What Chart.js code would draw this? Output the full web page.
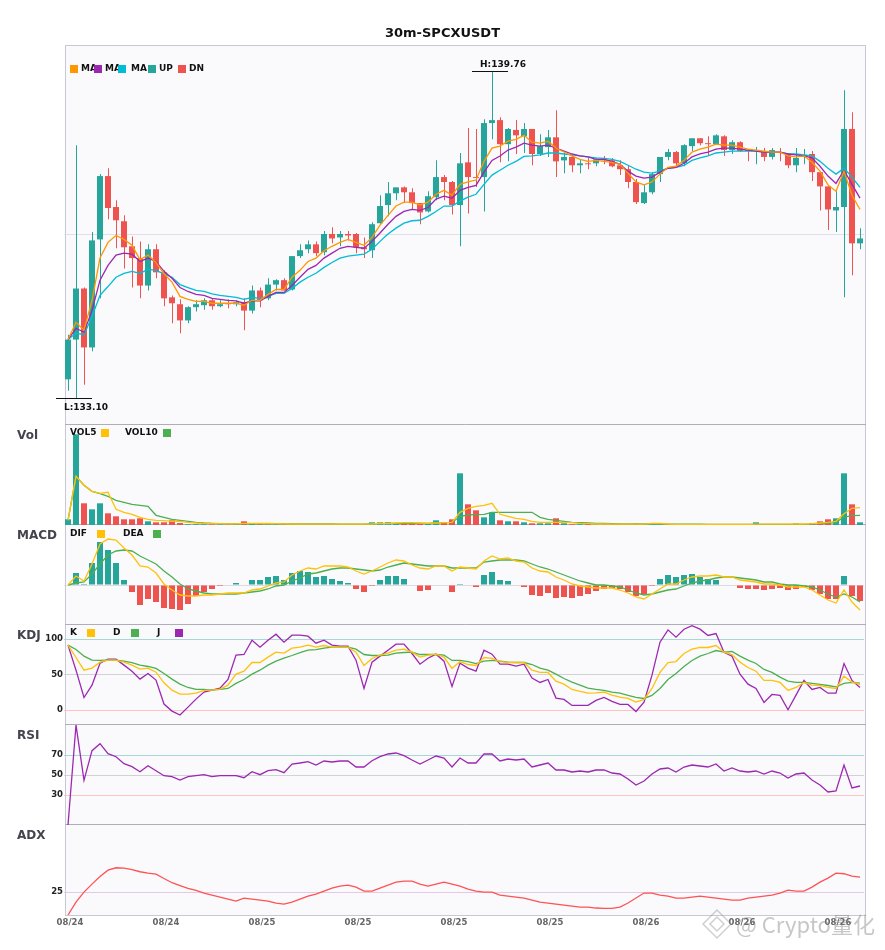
<!DOCTYPE html>
<html>
<head>
<meta charset="utf-8">
<title>30m-SPCXUSDT</title>
<script src="https://cdn.jsdelivr.net/npm/chart.js@4/dist/chart.umd.js"></script>
<style>
  html, body { margin: 0; padding: 0; background: #fff; }
  canvas { display: block; }
</style>
</head>
<body>
<canvas id="kline" width="885" height="950"></canvas>
<script>
var tickLabels = ['08/24','08/24','08/25','08/25','08/25','08/25','08/26','08/26','08/26'];

var open = [133.49,134.30,135.34,134.14,136.34,137.63,137.00,136.71,136.20,135.96,
  135.40,136.14,135.67,135.16,135.02,134.69,134.96,135.00,135.10,134.98,
  135.04,135.02,135.06,134.89,135.30,135.14,135.42,135.51,135.32,136.00,
  136.14,136.24,136.08,136.45,136.38,136.45,136.45,136.18,136.12,136.67,
  137.04,137.28,137.40,137.30,137.08,136.91,137.20,137.61,137.51,137.04,
  137.91,137.61,137.61,138.71,138.77,138.28,138.57,138.44,138.59,138.08,
  138.22,138.42,137.95,138.02,137.85,137.89,137.89,137.97,137.95,137.85,
  137.77,137.51,137.08,137.30,137.67,138.02,138.12,137.89,138.24,138.40,
  138.30,138.28,138.44,138.16,138.32,138.16,138.14,138.12,138.02,138.12,
  138.08,137.85,138.02,138.08,137.71,137.42,136.93,137.00,138.59,136.26];
var close = [134.30,135.34,134.14,136.32,137.63,136.98,136.73,136.18,135.96,135.40,
  136.14,135.67,135.14,135.04,134.69,134.96,135.02,135.10,134.98,135.02,
  135.02,135.06,134.89,135.30,135.10,135.42,135.51,135.30,136.00,136.12,
  136.24,136.06,136.45,136.36,136.45,136.42,136.18,136.14,136.65,137.02,
  137.28,137.40,137.30,137.08,136.89,137.22,137.61,137.51,137.04,137.89,
  137.61,137.59,138.71,138.77,138.28,138.59,138.46,138.59,138.08,138.24,
  138.42,137.93,138.02,137.85,137.89,137.87,137.97,137.95,137.83,137.77,
  137.51,137.10,137.30,137.67,138.02,138.12,137.89,138.26,138.40,138.30,
  138.28,138.46,138.16,138.32,138.14,138.14,138.16,138.02,138.16,138.10,
  137.85,138.00,138.06,137.71,137.42,136.95,137.00,138.59,136.26,136.36];
var high = [134.40,138.26,135.36,136.49,137.67,137.79,137.14,136.83,136.40,136.30,
  136.24,136.24,135.71,135.20,135.12,134.98,135.10,135.14,135.14,135.10,
  135.12,135.10,135.14,135.40,135.36,135.55,135.53,135.55,136.00,136.24,
  136.32,136.30,136.51,136.59,136.51,136.51,136.47,136.38,136.69,137.24,
  137.51,137.40,137.42,137.38,137.08,137.32,137.95,137.65,137.53,138.10,
  138.61,138.59,138.79,139.76,138.83,138.61,138.77,138.71,138.59,138.48,
  138.57,138.97,138.10,138.08,137.97,138.00,138.00,138.04,138.00,137.95,
  137.85,137.57,137.46,137.71,138.02,138.18,138.14,138.28,138.40,138.40,
  138.44,138.48,138.46,138.36,138.34,138.18,138.22,138.20,138.20,138.20,
  138.10,138.20,138.18,138.14,137.71,137.42,137.34,139.38,138.93,136.57];
var low = [133.26,133.10,133.38,134.06,135.14,136.75,136.16,135.75,135.36,135.14,
  135.30,135.55,134.98,134.63,134.43,134.63,134.87,134.91,134.91,134.96,
  134.94,134.98,134.49,134.83,134.96,135.10,135.30,135.30,135.30,135.96,
  136.06,136.00,136.02,136.26,136.20,136.32,136.06,135.96,135.96,136.66,
  136.81,137.14,137.08,136.95,136.65,136.89,137.14,137.14,136.85,136.20,
  136.87,137.41,136.91,138.38,137.91,137.93,138.08,138.10,137.85,138.04,
  138.02,137.61,137.69,137.71,137.69,137.77,137.83,137.87,137.81,137.65,
  137.38,137.06,137.06,137.26,137.51,137.95,137.83,137.83,138.14,138.26,
  138.04,138.28,138.04,138.08,138.12,137.93,137.87,137.93,137.97,137.93,
  137.79,137.71,137.87,137.53,136.93,136.53,136.49,135.16,135.61,136.14];

var ma5 = [134.30,134.65,134.49,135.10,135.96,136.28,136.42,136.34,136.22,135.93,
  136.02,135.87,135.64,135.47,135.18,135.12,135.08,135.08,135.04,135.04,
  135.04,135.04,135.00,135.10,135.10,135.22,135.32,135.32,135.57,135.71,
  135.89,135.96,136.11,136.20,136.28,136.34,136.28,136.22,136.38,136.63,
  136.83,137.02,137.10,137.10,137.04,137.10,137.26,137.34,137.24,137.46,
  137.51,137.55,137.93,138.20,138.24,138.34,138.38,138.46,138.32,138.30,
  138.34,138.20,138.12,138.04,137.97,137.93,137.95,137.93,137.91,137.87,
  137.69,137.51,137.45,137.51,137.67,137.81,137.83,137.95,138.12,138.18,
  138.22,138.28,138.26,138.26,138.22,138.18,138.16,138.14,138.12,138.12,
  138.04,138.02,138.04,137.91,137.73,137.45,137.32,137.73,137.24,136.95];
var ma10 = [134.30,134.53,134.45,134.89,135.51,135.81,136.02,136.06,136.04,135.89,
  135.96,135.89,135.69,135.55,135.36,135.28,135.22,135.20,135.14,135.12,
  135.10,135.09,135.04,135.09,135.09,135.18,135.26,135.26,135.40,135.57,
  135.73,135.81,135.96,136.06,136.16,136.20,136.18,136.16,136.30,136.47,
  136.65,136.81,136.91,136.95,136.93,136.99,137.16,137.22,137.18,137.34,
  137.40,137.44,137.71,137.95,138.04,138.16,138.22,138.30,138.26,138.24,
  138.26,138.20,138.14,138.08,138.04,138.02,137.97,137.97,137.93,137.87,
  137.73,137.63,137.59,137.61,137.71,137.79,137.81,137.89,138.02,138.08,
  138.12,138.18,138.20,138.20,138.18,138.16,138.14,138.12,138.12,138.12,
  138.08,138.06,138.04,138.00,137.83,137.63,137.48,137.75,137.46,137.18];
var ma20 = [134.30,134.43,134.40,134.77,135.20,135.38,135.57,135.65,135.69,135.65,
  135.73,135.71,135.64,135.57,135.42,135.36,135.30,135.28,135.23,135.20,
  135.18,135.16,135.12,135.16,135.14,135.18,135.24,135.24,135.34,135.47,
  135.57,135.65,135.77,135.87,135.96,136.00,136.02,136.04,136.14,136.30,
  136.45,136.57,136.67,136.72,136.73,136.81,136.91,137.02,137.02,137.12,
  137.20,137.26,137.46,137.65,137.75,137.85,137.93,138.03,138.04,138.06,
  138.10,138.10,138.08,138.06,138.04,138.02,138.00,137.99,137.97,137.93,
  137.85,137.77,137.71,137.69,137.73,137.79,137.81,137.85,137.95,138.00,
  138.04,138.10,138.12,138.14,138.14,138.14,138.14,138.12,138.12,138.12,
  138.08,138.08,138.06,138.04,137.93,137.79,137.67,137.79,137.61,137.40];

var volume = [5.7,90.7,21.7,15.7,21.7,11.7,8.7,5.7,5.7,6.7,
  3.7,2.7,2.7,4.7,2,.7,.7,.7,.7,.7,
  .7,1,3.7,1,.7,.7,.7,.7,1.7,.7,
  .7,.7,1,.7,.7,.7,.7,.7,2.7,2.7,
  2.7,1.3,1,1,1.3,1.3,4.7,2.7,5.7,51.7,
  20.7,14.7,7.7,12.7,4.7,3.7,3.7,2.7,1.7,1.7,
  1.7,6.7,1.7,.7,.7,1.7,.7,.7,.7,.7,
  .7,1.3,.5,.5,.5,.5,.5,.5,.5,.5,
  .5,.5,.5,.5,.5,.5,2.7,.5,.5,.5,
  .5,1.7,.5,1.7,3.7,5.7,6.7,51.7,20.7,2.7];
var vol5 = [4.7,48.7,39.7,33.7,31.7,32.7,15.7,12.7,10.7,7.7,
  5.7,4.7,4.3,3.7,3.7,2.7,2,1.7,1.3,1.3,
  1.2,1.2,1.6,1.6,1.6,1.5,1.4,1.2,1,.9,
  .9,.9,.9,.9,.8,.8,.8,.8,1,1.7,
  1.3,2,2.3,2.3,2,1.7,2,2.3,2.7,12.7,
  16.7,18.7,19.7,21.7,10.7,8.7,6.7,5.7,3.7,2.7,
  2.7,2.7,2.7,2.3,1.7,1.3,1,1,.8,.8,
  .8,.8,.8,1.7,1.7,1,.7,.6,.6,.6,
  .5,.5,.5,.5,.5,.5,.9,.9,.9,.9,
  .9,1,1,1.3,2,2.7,3.7,11.3,16.7,17.3];
var vol10 = [4.7,48.7,39.7,33.7,31.3,28.7,24.7,22.7,20.7,19.7,
  18.7,9.7,7.7,5.7,4.7,3.7,2.7,2,1.7,1.3,
  1.2,1.2,1.2,1.2,1.2,1.2,1.1,1.1,1,1,
  1,1,1,1,.9,.9,.9,.9,1.3,1.3,
  1.7,1.7,1.7,1.7,1.7,1.7,2,2.3,2.3,8.7,
  10,10.3,10.7,12.7,12.7,12.7,12.7,12.7,12.7,7.7,
  5.7,4.7,3.7,2.7,2.3,2,1.7,1.5,1.3,1.2,
  1,1,1,1,1,.9,.9,.8,.8,.8,
  .7,.7,.7,.6,.6,.6,.7,.7,.7,.7,
  .7,.7,.7,.8,1.3,1.7,2.7,8,9.3,9.7];

var hist = [0,.12,.01,.22,.43,.35,.22,.05,-.07,-.20,
  -.14,-.17,-.23,-.24,-.25,-.19,-.11,-.07,-.04,-.01,
  0,.02,0,.05,.05,.08,.09,.05,.12,.14,
  .13,.08,.09,.06,.04,.02,-.04,-.07,-.01,.05,
  .09,.09,.06,0,-.06,-.05,0,0,-.07,.01,
  0,-.02,.10,.13,.05,.04,0,-.02,-.10,-.11,
  -.08,-.13,-.12,-.13,-.11,-.09,-.06,-.04,-.03,-.04,
  -.07,-.11,-.09,-.01,.06,.10,.08,.10,.11,.08,
  .06,.05,0,0,-.03,-.04,-.04,-.05,-.04,-.03,
  -.05,-.04,-.02,-.05,-.09,-.14,-.14,.09,-.11,-.16];
var dif = [0,.09,.04,.21,.41,.46,.45,.37,.30,.19,
  .18,.12,.01,-.05,-.10,-.11,-.11,-.10,-.10,-.09,
  -.08,-.08,-.08,-.05,-.04,-.01,.02,.03,.10,.14,
  .17,.16,.19,.19,.19,.18,.14,.11,.14,.18,
  .22,.25,.24,.20,.17,.16,.19,.19,.14,.18,
  .17,.16,.24,.29,.26,.27,.24,.23,.17,.14,
  .13,.08,.05,.01,-.01,-.02,-.03,-.03,-.03,-.05,
  -.08,-.12,-.14,-.09,-.04,.01,.01,.05,.08,.09,
  .09,.10,.08,.08,.05,.04,.03,.01,.01,0,
  -.02,-.02,-.02,-.05,-.10,-.15,-.18,-.05,-.17,-.25];
var dea = [0,.02,.03,.11,.21,.30,.34,.35,.34,.29,
  .25,.21,.14,.08,.01,-.04,-.06,-.08,-.09,-.09,
  -.09,-.09,-.08,-.07,-.06,-.04,-.01,0,.04,.07,
  .11,.12,.14,.16,.17,.17,.16,.15,.14,.15,
  .18,.20,.22,.21,.20,.19,.19,.19,.17,.17,
  .17,.17,.23,.24,.25,.25,.25,.24,.21,.18,
  .16,.13,.10,.07,.04,.02,0,0,-.01,-.02,
  -.05,-.08,-.10,-.09,-.07,-.05,-.04,-.01,.02,.04,
  .05,.07,.08,.08,.07,.06,.05,.03,.03,.01,
  0,0,-.01,-.02,-.05,-.09,-.12,-.09,-.12,-.17];

var kLine = [91.6,74.2,56.3,59.2,67.6,70.4,70.4,67.6,63.4,57.7,
  59.2,53.5,38.5,28.2,22.5,22.5,23.9,27.7,28.2,29.6,
  35.2,50.7,54.9,67.1,67.1,74.7,81.7,80.3,87.3,88.7,
  91.6,88.7,91.1,88.7,88.7,88.7,81.7,62.9,72.8,77.5,
  80.3,84.5,85.9,81.7,74.7,77.5,78.9,74.7,58.7,68.5,
  64.3,62.9,74.2,72.8,68.5,67.1,67.1,67.1,56.3,53.1,
  53.1,40.8,36.6,29.1,26.3,23.9,24.4,25.4,21.1,18.3,
  16.4,11.3,15,30.5,53.1,67.1,68.5,79.8,85.9,88.3,
  88.3,91.1,81.7,78.4,67.6,60.1,54.9,41.8,41.8,39,
  27.7,31.9,39,35.2,34.7,31.9,30.5,47.9,39.4,36.2];
var dLine = [91.6,85.4,76.1,70.4,70,70.4,70.4,69,67.1,63.4,
  61.5,58.7,51.6,43.7,36.6,31.9,29.1,29.1,28.2,29.1,
  30.5,37.6,43.2,50.7,56.3,63.4,69,73.2,77,81.2,
  84.5,85.4,87.3,88.7,88.7,88.7,85.9,78.4,77,77,
  77.5,80.3,81.2,81.7,78.4,78.4,78.4,77.5,70,70,
  68.5,65.7,69,70,69,67.6,67.1,67.1,64.3,59.2,
  56.3,50.7,44.6,39.4,35.2,31,29.1,27.7,25.4,23.9,
  20.7,17.8,16.4,20.7,30.5,43.2,51.6,61.5,70,76.1,
  79.8,84,81.7,82.6,76.1,70.4,65.7,57.3,53.1,46.5,
  40.8,39,39,37.6,36.2,34.7,32.9,37.6,39,38];
var jLine = [91.6,56.3,17.8,35.2,66.2,71.8,71.8,63.4,54.9,43.7,
  51.6,42.3,8.5,-1.4,-7,4.2,15.5,25.4,28.2,31,
  43.2,77.5,78.4,98.6,88.7,98.6,107,95.8,105.6,105.6,
  104.2,94.4,98.6,91.6,90.1,90.1,70.4,30.5,67.6,76.1,
  84.5,93,93,79.8,64.8,73.2,78.9,69,33.3,66.2,
  59.2,54.9,84.5,78.9,64.8,64.8,62,64.8,45.1,39,
  43.2,16.9,15,6.6,6.6,6.6,13.6,17.8,12.2,8,
  8,-1.9,11.3,49.3,95.8,113.1,102.8,114.1,119,114.1,
  105.2,108,81.7,76.1,50.7,36.6,30.5,10.8,22.1,20.7,
  .5,21.1,41.8,29.1,31.9,23.9,23.9,65.7,41.8,31.9];

var rsi = [0,100,44.7,74.3,81.3,71.3,68.3,61.3,58.3,53.3,
  59.3,54.3,49.3,48.3,45,48.3,49.3,50.3,48.3,49.3,
  49.3,49.3,47.3,53.3,50.3,54.3,55.3,52.3,61,62,
  63.3,60,64,63,64,64,58,58,64.3,68.3,
  71,72,69.3,65,61,65,69,67,58,67,
  62,62,71,71,64,66,65,66,58,60,
  62,55,55,53,54,53,55,55,52,51,
  46,40,44,51,56,57,53,58,60,59,
  58,61,54,57,54,53,54,51,54,52,
  47,51,52,45,40,33,34,60,37,39];

var adx = [13.5,20,25,29,32.8,36,37.2,37,36.3,35.2,
  34.5,34,31.8,29.7,28.2,26.8,25.8,24.5,23.5,22.5,
  21.5,20.5,22,21.5,21,20.5,19.5,19,20,21.5,
  23,24,25.5,27,28,28.5,27.5,25.5,25.5,27,
  28.5,30,30.5,30.5,29,28,29,30,29,28,
  26.5,25.5,25,25,23.5,23,22.5,22,21,20,
  19.5,19,18.5,18,17.5,17.5,17,16.8,16.8,17.5,
  19.5,22,24.5,24.5,23.5,23,22,22,22.5,23,
  22.5,22,21.5,21,21,22,22.5,23,23.5,24.5,
  26,25.5,25.5,27.5,30,32,34.5,34.2,33,32.5];

var UP = '#26a69a', DN = '#ef5350';
var candleColors = close.map(function (c, i) { return c >= open[i] ? UP : DN; });
var histColors = hist.map(function (v) { return v >= 0 ? UP : DN; });
var xLabels = open.map(function (v, i) { return i; });

function lineSet(label, data, color, axis) {
  return { type: 'line', label: label, data: data, yAxisID: axis, borderColor: color,
    borderWidth: 1.3, pointRadius: 0, tension: 0, order: 0 };
}
function barSet(label, data, color, axis, width, order) {
  return { type: 'bar', label: label, data: data, yAxisID: axis, backgroundColor: color,
    barThickness: width, grouped: false, borderWidth: 0, inflateAmount: 0, order: order };
}

// y axis for one panel, ticks = the only levels that get a grid line
function panelAxis(weight, min, max, ticks, gridColors, showLabels) {
  return {
    position: 'left', stack: 'panels', stackWeight: weight, min: min, max: max,
    border: { display: false },
    afterFit: function (s) { s.width = 64; },
    afterBuildTicks: function (s) { s.ticks = ticks.map(function (v) { return { value: v }; }); },
    grid: {
      drawTicks: false, lineWidth: 1,
      color: function (c) { return gridColors[ticks.indexOf(c.tick.value)]; }
    },
    ticks: {
      display: showLabels, autoSkip: false, padding: 1, color: '#222',
      font: { family: 'DejaVu Sans', size: 8.5, weight: 'bold' },
      callback: function (v) { return v; }
    }
  };
}

function text(ctx, str, x, y, font, color, align) {
  ctx.font = font;
  ctx.fillStyle = color;
  ctx.textAlign = align || 'left';
  ctx.textBaseline = 'middle';
  ctx.fillText(str, x, y);
}

var panelBack = {
  id: 'panelBack',
  beforeDraw: function (chart) {
    var ctx = chart.ctx, a = chart.chartArea;
    ctx.save();
    ctx.fillStyle = '#fafafd';
    ctx.fillRect(a.left + 1, a.top, a.right - a.left + 1, a.bottom - a.top);
    ctx.strokeStyle = '#c8c8d4';
    ctx.lineWidth = 1;
    ctx.strokeRect(a.left + 1.5, a.top + .5, a.right - a.left, a.bottom - a.top);
    ctx.strokeStyle = '#aeaeb6';
    ['yVol', 'yMacd', 'yKdj', 'yRsi', 'yAdx'].forEach(function (id) {
      var t = Math.round(chart.scales[id].top) - .5;
      ctx.beginPath();
      ctx.moveTo(a.left + 1, t);
      ctx.lineTo(a.right + 2, t);
      ctx.stroke();
    });
    ctx.restore();
  }
};

var legends = {
  id: 'legends',
  afterDraw: function (chart) {
    var ctx = chart.ctx, leg = 'bold 9px "DejaVu Sans"';
    var head = 'bold 12px "DejaVu Sans"';
    ctx.save();

    text(ctx, '30m-SPCXUSDT', 442.5, 34, 'bold 13px "DejaVu Sans"', '#111', 'center');

    [['Vol', 'yVol'], ['MACD', 'yMacd'], ['KDJ', 'yKdj'], ['RSI', 'yRsi'], ['ADX', 'yAdx']].forEach(function (p) {
      text(ctx, p[0], 17, chart.scales[p[1]].top + 10.5, head, '#44444e');
    });

    // name, x of text, x of swatch, colour; swatch goes over the text like the original
    function row(y, items) {
      items.forEach(function (it) { text(ctx, it[0], it[1], y, leg, '#111'); });
      items.forEach(function (it) {
        ctx.fillStyle = it[3];
        ctx.fillRect(it[2], y - 4, 8, 8);
      });
    }
    row(69, [['MA', 81, 70, '#ff9800'], ['MA', 105, 94, '#9c27b0'], ['MA', 131, 118, '#00bcd4'],
      ['UP', 159, 148, UP], ['DN', 189, 178, DN]]);
    row(433, [['VOL5', 70, 101, '#ffc107'], ['VOL10', 125, 163, '#4caf50']]);
    row(534, [['DIF', 70, 97, '#ffc107'], ['DEA', 123, 153, '#4caf50']]);
    row(633, [['K', 70, 87, '#ffc107'], ['D', 113, 131, '#4caf50'], ['J', 157, 175, '#9c27b0']]);

    // high / low markers
    var x = chart.scales.x, y = chart.scales.y;
    var hi = Math.max.apply(null, high), lo = Math.min.apply(null, low);
    var hx = x.getPixelForValue(high.indexOf(hi)), hy = y.getPixelForValue(hi);
    var lx = x.getPixelForValue(low.indexOf(lo)), ly = y.getPixelForValue(lo);
    ctx.strokeStyle = '#111';
    ctx.lineWidth = 1.2;
    ctx.beginPath();
    ctx.moveTo(hx - 20, hy); ctx.lineTo(hx + 16, hy);
    ctx.moveTo(lx - 20, ly); ctx.lineTo(lx + 16, ly);
    ctx.stroke();
    text(ctx, 'H:' + hi.toFixed(2), hx + 11, hy - 7, leg, '#111', 'center');
    text(ctx, 'L:' + lo.toFixed(2), lx + 10, ly + 9, leg, '#111', 'center');

    // watermark
    ctx.strokeStyle = 'rgba(150,150,150,.45)';
    ctx.lineWidth = 1.5;
    ctx.beginPath();
    ctx.moveTo(717, 910); ctx.lineTo(731, 924); ctx.lineTo(717, 938); ctx.lineTo(703, 924); ctx.closePath();
    ctx.moveTo(717, 917); ctx.lineTo(724, 924); ctx.lineTo(717, 931); ctx.lineTo(710, 924); ctx.closePath();
    ctx.stroke();
    text(ctx, '@ Crypto量化', 736, 925, '22px "Noto Sans CJK SC"', 'rgba(130,130,130,.45)');
    ctx.restore();
  }
};

var ctx = document.getElementById('kline').getContext('2d');
var myChart = new Chart(ctx, {
  data: {
    labels: xLabels,
    datasets: [
      lineSet('MA5', ma5, '#ff9800', 'y'),
      lineSet('MA10', ma10, '#9c27b0', 'y'),
      lineSet('MA20', ma20, '#00bcd4', 'y'),
      barSet('body', open.map(function (o, i) { return [o, close[i]]; }), candleColors, 'y', 6, 1),
      Object.assign(barSet('wick', low.map(function (l, i) { return [l, high[i]]; }), candleColors, 'y', 1, 2), { xAxisID: 'xWick' }),

      lineSet('VOL5', vol5, '#ffc107', 'yVol'),
      lineSet('VOL10', vol10, '#4caf50', 'yVol'),
      barSet('Vol', volume, candleColors, 'yVol', 6, 1),

      lineSet('DIF', dif, '#ffc107', 'yMacd'),
      lineSet('DEA', dea, '#4caf50', 'yMacd'),
      barSet('MACD', hist, histColors, 'yMacd', 6, 1),

      lineSet('K', kLine, '#ffc107', 'yKdj'),
      lineSet('D', dLine, '#4caf50', 'yKdj'),
      lineSet('J', jLine, '#9c27b0', 'yKdj'),

      lineSet('RSI', rsi, '#9c27b0', 'yRsi'),
      lineSet('ADX', adx, '#ff5252', 'yAdx')
    ]
  },
  options: {
    responsive: false,
    animation: false,
    events: [],
    layout: { padding: { left: 0, right: 21, top: 45, bottom: 0 } },
    plugins: {
      legend: { display: false },
      tooltip: { enabled: false }
    },
    scales: {
      x: {
        type: 'category', offset: true,
        afterFit: function (s) { s.height = 35; },
        border: { display: false },
        grid: { display: false, drawTicks: false },
        ticks: {
          autoSkip: false, maxRotation: 0, padding: 3, labelOffset: 2, color: '#666',
          font: { family: 'DejaVu Sans', size: 8.5, weight: 'bold' },
          callback: function (v, i) { return i % 12 === 0 ? tickLabels[i / 12] : null; }
        }
      },
      // half a pixel to the right of x so the 1px wicks land on whole pixels
      xWick: { type: 'linear', display: false, offset: false, min: -0.5625, max: 99.4375 },
      yAdx: panelAxis(90, 13.5, 58.65, [25], ['#e4c8e8'], true),
      yRsi: panelAxis(100, 0, 100, [30, 50, 70], ['#ffc2c2', '#d2d2d6', '#a8d8d6'], true),
      yKdj: panelAxis(100, -21, 120, [0, 50, 100], ['#ffc2c2', '#d2d2d6', '#a8d8d6'], true),
      yMacd: panelAxis(100, -.4, .6, [0], ['#dcdce0'], false),
      yVol: panelAxis(100, 0, 100, [], [], false),
      y: panelAxis(380, 132.56, 140.3, [136.45], ['#dfdfe8'], false)
    }
  },
  plugins: [panelBack, legends]
});
</script>
</body>
</html>
